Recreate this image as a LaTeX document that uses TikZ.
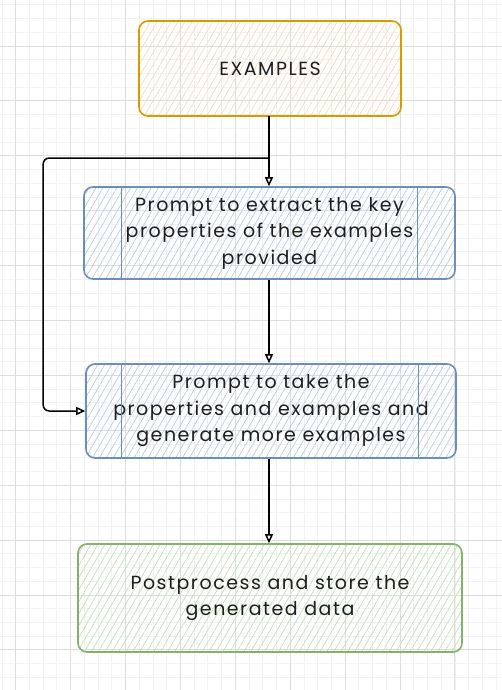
\documentclass[tikz,border=0pt]{standalone}
\usepackage{fontspec}
\setmainfont[LetterSpace=8]{Poppins}
\usetikzlibrary{arrows.meta,patterns.meta}

\definecolor{gridminor}{HTML}{F2F2F2}
\definecolor{gridmajor}{HTML}{DDDDDD}
\definecolor{txt}{HTML}{1E1E1E}
\definecolor{exline}{HTML}{D79B00}
\definecolor{exfill}{HTML}{FDD9B5}
\definecolor{propline}{HTML}{6C8EBF}
\definecolor{propfill}{HTML}{B9CCEB}
\definecolor{postline}{HTML}{82B366}
\definecolor{postfill}{HTML}{C3E2B3}

\begin{document}
\begin{tikzpicture}[x=1pt,y=-1pt,>={Triangle[open,length=9pt,width=8pt]}]
        \tikzstyle{every node}=[font=\fontsize{19}{26.5}\selectfont, text=txt, align=center]
        \tikzstyle{box}=[draw, line width=1.6pt, rounded corners=9pt, inner sep=0pt]
        \tikzstyle{examplebox}=[box, draw=exline, pattern={Lines[angle=60,distance=6pt,line width=0.7pt]}, pattern color=exfill]
        \tikzstyle{promptbox}=[box, draw=propline, pattern={Lines[angle=60,distance=6pt,line width=0.7pt]}, pattern color=propfill]
        \tikzstyle{postbox}=[box, draw=postline, pattern={Lines[angle=60,distance=6pt,line width=0.7pt]}, pattern color=postfill]
        \tikzstyle{sideline}=[line width=1.3pt, draw=propline]
        \tikzstyle{link}=[->, line width=1.5pt, black]

        % background and grid
        \fill[white] (0,0) rectangle (502,690);
        \useasboundingbox (0,0) rectangle (502,690);
        \begin{scope}
            \clip (0,0) rectangle (502,690);
            \draw[gridminor, line width=0.8pt, step=13.725pt, shift={(1.97,4.8)}] (-14,-14) grid (516,704);
            \draw[gridmajor, line width=0.9pt, step=54.9pt, shift={(15.7,46)}] (-55,-55) grid (557,745);
        \end{scope}

        % boxes
        \node[examplebox, minimum width=262pt, minimum height=95pt] (examples) at (270,68.5) {EXAMPLES};
        \node[promptbox, minimum width=371pt, minimum height=92pt] (extract) at (269.5,233) {Prompt to extract the key\\properties of the examples\\provided};
        \node[promptbox, minimum width=370pt, minimum height=94pt] (generate) at (271,411) {Prompt to take the\\properties and examples and\\generate more examples};
        \node[postbox, minimum width=384pt, minimum height=108pt] (store) at (270,598) {Postprocess and store the\\generated data};

        % process side bars
        \draw[sideline] ([xshift=38pt]extract.north west) -- ([xshift=38pt]extract.south west);
        \draw[sideline] ([xshift=-38pt]extract.north east) -- ([xshift=-38pt]extract.south east);
        \draw[sideline] ([xshift=36pt]generate.north west) -- ([xshift=36pt]generate.south west);
        \draw[sideline] ([xshift=-38pt]generate.north east) -- ([xshift=-38pt]generate.south east);

        % connectors
        \coordinate (split) at (269,158);
        \draw[link] (examples.south -| split) -- (extract.north -| split);
        \draw[link, rounded corners=6pt] (split) -| ([xshift=-42pt]generate.west) -- (generate.west);
        \draw[link] (extract.south -| split) -- (generate.north -| split);
        \draw[link] (generate.south -| split) -- (store.north -| split);
    \end{tikzpicture}
\end{document}
